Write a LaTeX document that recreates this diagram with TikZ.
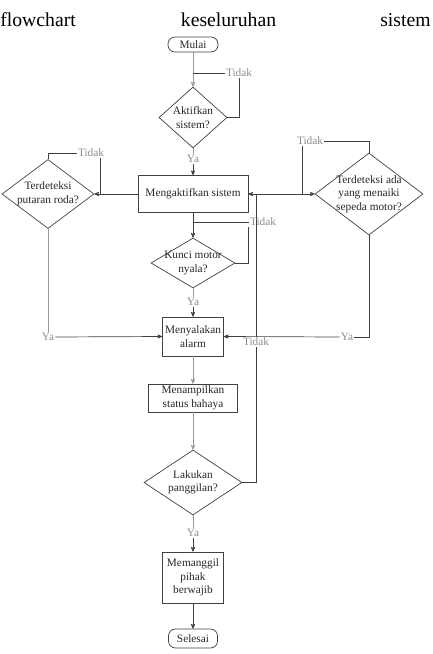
\documentclass[tikz,border=0pt]{standalone}
\usepackage{fontspec}
\setmainfont{Liberation Serif}
\usepackage{tikz}
\usetikzlibrary{arrows}
\usetikzlibrary{shapes.geometric}
\begin{document}
\begin{tikzpicture}[>=stealth',x=1pt,y=-1pt,line width=0.7pt,
	font=\fontsize{11.3}{13.5}\selectfont,text=black!85,
	proc/.style={rectangle,draw=black!75,align=center,inner sep=1pt},
	term/.style={rectangle,rounded corners=7pt,draw=black!75,inner sep=1pt},
	dec/.style={diamond,draw=black!75,inner sep=0pt},
	lbl/.style={text=black!45,inner sep=1pt},
	dk/.style={draw=black!75},
	lt/.style={draw=black!40},
	ttl/.style={font=\fontsize{19.7}{22}\selectfont,text=black,anchor=base west,inner sep=0pt}]
			\useasboundingbox(0,0)rectangle(432,654);
			\node[ttl](h1)at(0,26){flowchart};
			\node[ttl,anchor=base](h2)at(228.5,26){keseluruhan};
			\node[ttl,anchor=base east](h3)at(431,26){sistem};
			\node[term,minimum width=50pt,minimum height=15pt](s)at(193,44.5){Mulai};
			\node[dec,minimum width=68pt,minimum height=61pt,label={[align=center]center:Aktifkan\\sistem?}](d1)at(193,117.5){};
			\node[proc,minimum width=110pt,minimum height=37pt](b1)at(193,194){Mengaktifkan sistem};
			\node[dec,minimum width=92pt,minimum height=69pt,label={[align=center]center:Terdeteksi\\putaran roda?}](d2)at(48,194){};
			\node[dec,minimum width=108pt,minimum height=82pt,label={[align=center]center:Terdeteksi ada\\yang menaiki\\sepeda motor?}](d3)at(369,194){};
			\node[dec,minimum width=84pt,minimum height=50pt,label={[align=center]center:Kunci motor\\nyala?}](d4)at(193,263){};
			\node[proc,minimum width=61pt,minimum height=39pt](b2)at(193,336.5){Menyalakan\\alarm};
			\node[proc,minimum width=89pt,minimum height=28pt](b3)at(193,398){Menampilkan\\status bahaya};
			\node[dec,minimum width=98pt,minimum height=65pt,label={[align=center]center:Lakukan\\panggilan?}](d7)at(193,482.5){};
			\node[proc,minimum width=61pt,minimum height=51pt](b4)at(193,577.5){Memanggil\\pihak\\berwajib};
			\node[term,minimum width=49pt,minimum height=19pt](e)at(193,638.5){Selesai};
			\coordinate(j1)at(193,73);
			\coordinate(j2)at(100,194);
			\coordinate(j3)at(302,194);
			\coordinate(j4)at(193,222);
			\coordinate(j5)at(256,194);
			\node[lbl](t1)at(239,73){Tidak};
			\node[lbl](t2)at(91,153){Tidak};
			\node[lbl](t3)at(310,141){Tidak};
			\node[lbl](t4)at(263,222){Tidak};
			\node[lbl](ya1)at(193,159){Ya};
			\node[lbl](y2)at(48,337){Ya};
			\node[lbl](y3)at(347,337){Ya};
			\node[lbl](y4)at(193,302){Ya};
			\node[lbl](y7)at(193,533){Ya};
			\draw[lt,->](s.south)--(d1.north);
			\draw[dk](d1.east)-|(t1.south);
			\draw[dk](t1.west)--(j1);
			\draw[lt](d1.south)--(ya1.north);
			\draw[dk,->](ya1.south)--(b1.north);
			\draw[dk,->](b1.west)--(d2.east);
			\draw[dk](d2.north)|-(t2.west);
			\draw[dk](t2.south-|j2)--(j2);
			\draw[lt](d2.south)--(y2.north);
			\draw[dk,->](y2.east)--(b2.west);
			\draw[dk,->](b1.east)--(d3.west);
			\draw[dk](d3.north)|-(t3.east);
			\draw[dk](t3.south-|j3)--(j3);
			\draw[dk](d3.south)|-(y3.east);
			\draw[dk,->](y3.west)--(b2.east);
			\draw[dk,->](b1.south)--(d4.north);
			\draw[dk](d4.east)-|(t4.south west);
			\draw[dk](t4.west)--(j4);
			\draw[lt](d4.south)--(y4.north);
			\draw[dk,->](y4.south)--(b2.north);
			\draw[lt,->](b2.south)--(b3.north);
			\draw[lt,->](b3.south)--(d7.north);
			\draw[dk,->](d7.east)-|(j5)--(b1.east);
			\node[lbl,fill=white](t7)at(256,342){Tidak};
			\draw[lt](d7.south)--(y7.north);
			\draw[dk,->](y7.south)--(b4.north);
			\draw[dk,->](b4.south)--(e.north);
		\end{tikzpicture}
\end{document}
